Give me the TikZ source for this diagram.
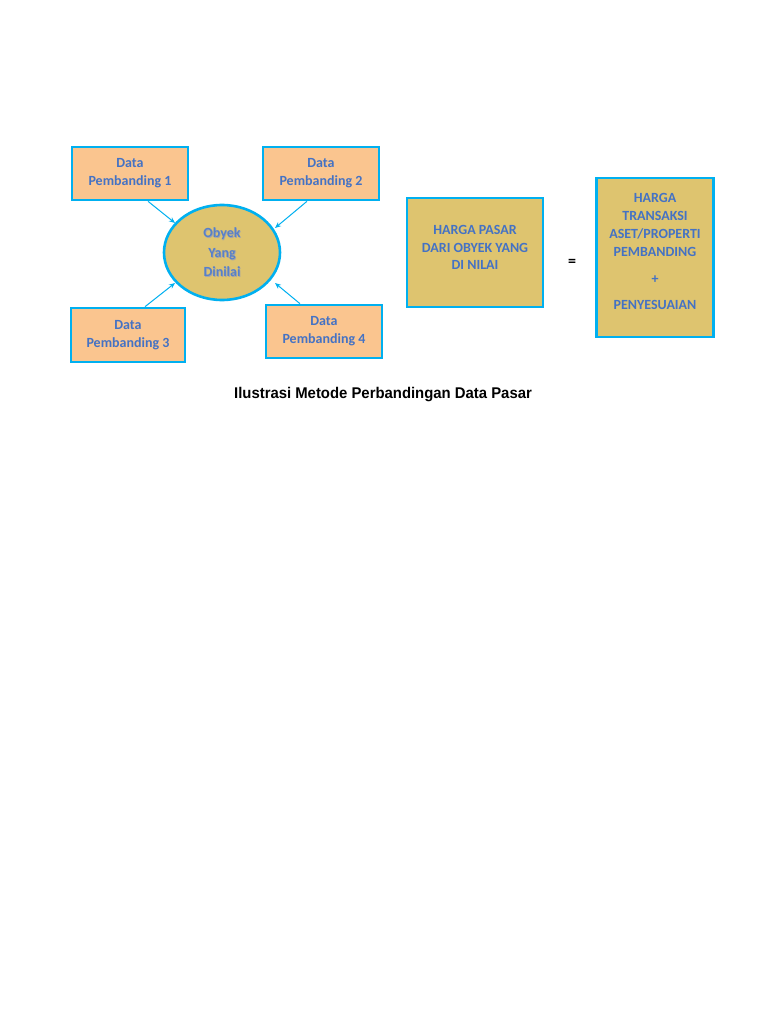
\documentclass[tikz,border=0pt]{standalone}
\usepackage{fontspec}
\setmainfont{Carlito}
\newfontfamily\capfont{Liberation Sans}
\usetikzlibrary{shapes.geometric,arrows.meta}
\definecolor{cyanb}{HTML}{00B0F0}
\definecolor{peach}{HTML}{FAC58F}
\definecolor{tan}{HTML}{DEC46F}
\definecolor{txtblue}{HTML}{4472C4}
\tikzset{
  databox/.style={draw=cyanb, line width=2.6pt, fill=peach, inner sep=0pt,
    text=txtblue, font=\fontsize{14}{18}\selectfont\bfseries, align=center},
  tanbox/.style={draw=cyanb, line width=2.6pt, fill=tan, inner sep=0pt},
  conn/.style={draw=cyanb, line width=1pt, -{Stealth[length=6pt,width=5pt]}},
}
\begin{document}
\begin{tikzpicture}[x=1pt,y=-1pt]
\useasboundingbox[fill=white] (0,0) rectangle (768,1024);
% data boxes
\node[databox, minimum width=116pt, minimum height=53pt] (d1) at (130,173.5) {Data\\Pembanding 1};
\node[databox, minimum width=116pt, minimum height=53pt] (d2) at (321,173.5) {Data\\Pembanding 2};
\node[databox, minimum width=114pt, minimum height=54pt] (d3) at (128,335) {Data\\Pembanding 3};
\node[databox, minimum width=116pt, minimum height=53pt] (d4) at (324,331.5) {Data\\Pembanding 4};
% ellipse
\node[ellipse, draw=cyanb, line width=2.6pt, fill=tan, minimum width=116pt, minimum height=95pt, inner sep=0pt] (obj) at (222,252.5) {};
\node[text=black!35, font=\fontsize{14}{19.5}\selectfont\bfseries, align=center] (objs) at (222.8,253.3) {Obyek\\Yang\\Dinilai};
\node[text=txtblue!90!white, font=\fontsize{14}{19.5}\selectfont\bfseries, align=center] (objt) at (222,252.5) {Obyek\\Yang\\Dinilai};
% connectors
\coordinate (a1) at (175,223);
\coordinate (a2) at (275,228);
\coordinate (a3) at (175,283);
\coordinate (a4) at (275,283);
\draw[conn] (d1.south -| 148,0) -- (a1);
\draw[conn] (d2.south -| 307,0) -- (a2);
\draw[conn] (d3.north -| 145,0) -- (a3);
\draw[conn] (d4.north -| 300,0) -- (a4);
% right side
\node[tanbox, minimum width=136pt, minimum height=109pt] (hp) at (475,252.5) {};
\node[text=txtblue, font=\fontsize{14}{17.5}\selectfont\bfseries, align=center] (hpt) at (475,247.5) {HARGA PASAR\\DARI OBYEK YANG\\DI NILAI};
\node[font=\fontsize{16}{18}\selectfont\bfseries] (eq) at (572,263) {=};
\node[tanbox, minimum width=117pt, minimum height=159pt] (ht) at (655,257.5) {};
\node[text=txtblue, font=\fontsize{14}{17.7}\selectfont\bfseries, align=center] (htt) at (655,225) {HARGA\\TRANSAKSI\\ASET/PROPERTI\\PEMBANDING};
\node[text=txtblue, font=\fontsize{14}{15}\selectfont\bfseries] (plus) at (655,280) {+};
\node[text=txtblue, font=\fontsize{14}{15}\selectfont\bfseries] (peny) at (655,305) {PENYESUAIAN};
% caption
\node[font=\capfont\fontsize{15.5}{18}\selectfont\bfseries, xscale=0.96] (cap) at (383,395) {Ilustrasi Metode Perbandingan Data Pasar};
\end{tikzpicture}
\end{document}
